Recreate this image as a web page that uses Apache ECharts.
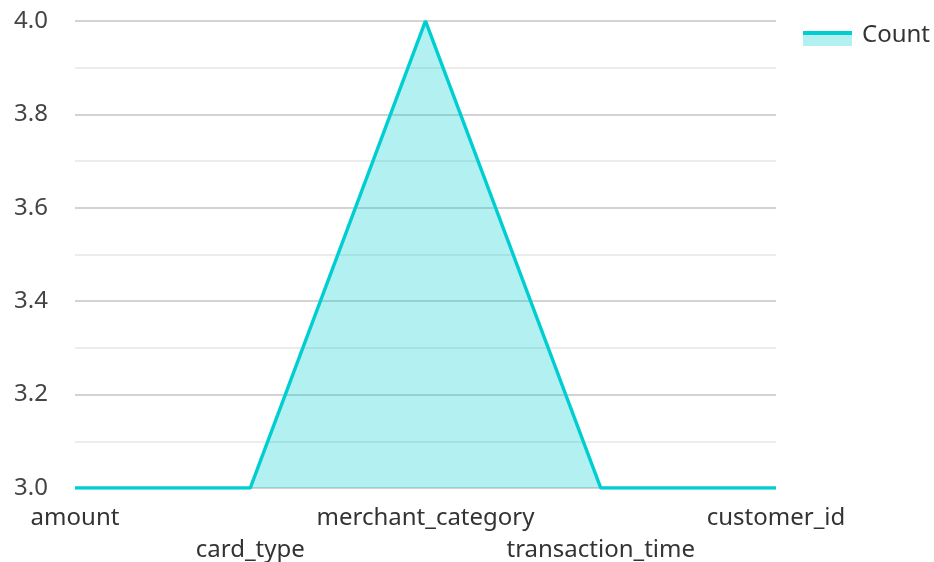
<!DOCTYPE html>
<html>
<head>
<meta charset="utf-8">
<script src="https://cdn.jsdelivr.net/npm/echarts@6/dist/echarts.min.js"></script>
<style>
  html, body { margin: 0; padding: 0; background: #fff; }
  #main { width: 934px; height: 562px; }
</style>
</head>
<body>
<div id="main"></div>
<script>
var categories = ['amount', 'card_type', 'merchant_category', 'transaction_time', 'customer_id'];
var counts = [3, 3, 4, 3, 3];
var seriesName = 'Count';

var chartDom = document.getElementById('main');
var myChart = echarts.init(chartDom, null, { renderer: 'canvas' });
var font = '"Noto Sans", "Open Sans", sans-serif';
var teal = '#00CED1';
var option = {
    animation: false,
    textStyle: { fontFamily: font },
    grid: { left: 75, right: 158, top: 21, bottom: 74, outerBoundsMode: 'none' },
    legend: {
        right: 4,
        top: 23,
        padding: 0,
        icon: 'rect',
        itemWidth: 49,
        itemHeight: 15,
        itemGap: 10,
        itemStyle: { color: 'rgba(0, 0, 0, 0)', opacity: 1 },
        textStyle: { fontSize: 24, color: '#333', fontFamily: font, padding: [0, 0, 9, 5] },
        data: [seriesName]
    },
    // legend swatch: light area block with the line colour along its top
    graphic: [{
        type: 'rect',
        right: 82,
        top: 31,
        shape: { width: 49, height: 15 },
        style: { fill: 'rgba(0, 206, 209, 0.3)' },
        silent: true
    }, {
        type: 'rect',
        right: 82,
        top: 31,
        shape: { width: 49, height: 4 },
        style: { fill: teal },
        silent: true
    }],
    xAxis: {
        type: 'category',
        data: categories,
        boundaryGap: false,
        axisLine: { show: false },
        axisTick: { show: false },
        axisLabel: {
            interval: 0,
            fontSize: 24,
            color: '#333',
            margin: 14,
            lineHeight: 32,
            formatter: function (v, i) { return i % 2 === 1 ? '\n' + v : v; }
        }
    },
    yAxis: {
        type: 'value',
        min: 3,
        max: 4,
        interval: 0.2,
        axisLine: { show: false },
        axisTick: { show: false },
        axisLabel: {
            fontSize: 24,
            color: '#444',
            margin: 27,
            formatter: function (v) { return v.toFixed(1); }
        },
        splitLine: { lineStyle: { color: '#c4c4c4', width: 1.5 } },
        minorTick: { show: false, splitNumber: 2 },
        minorSplitLine: { show: true, lineStyle: { color: '#e6e6e6', width: 1.5 } }
    },
    series: [{
        name: seriesName,
        type: 'line',
        data: counts,
        symbol: 'none',
        lineStyle: { color: teal, width: 3.5 },
        itemStyle: { color: teal },
        areaStyle: { color: teal, opacity: 0.3 }
    }]
};
option && myChart.setOption(option);
</script>
</body>
</html>
